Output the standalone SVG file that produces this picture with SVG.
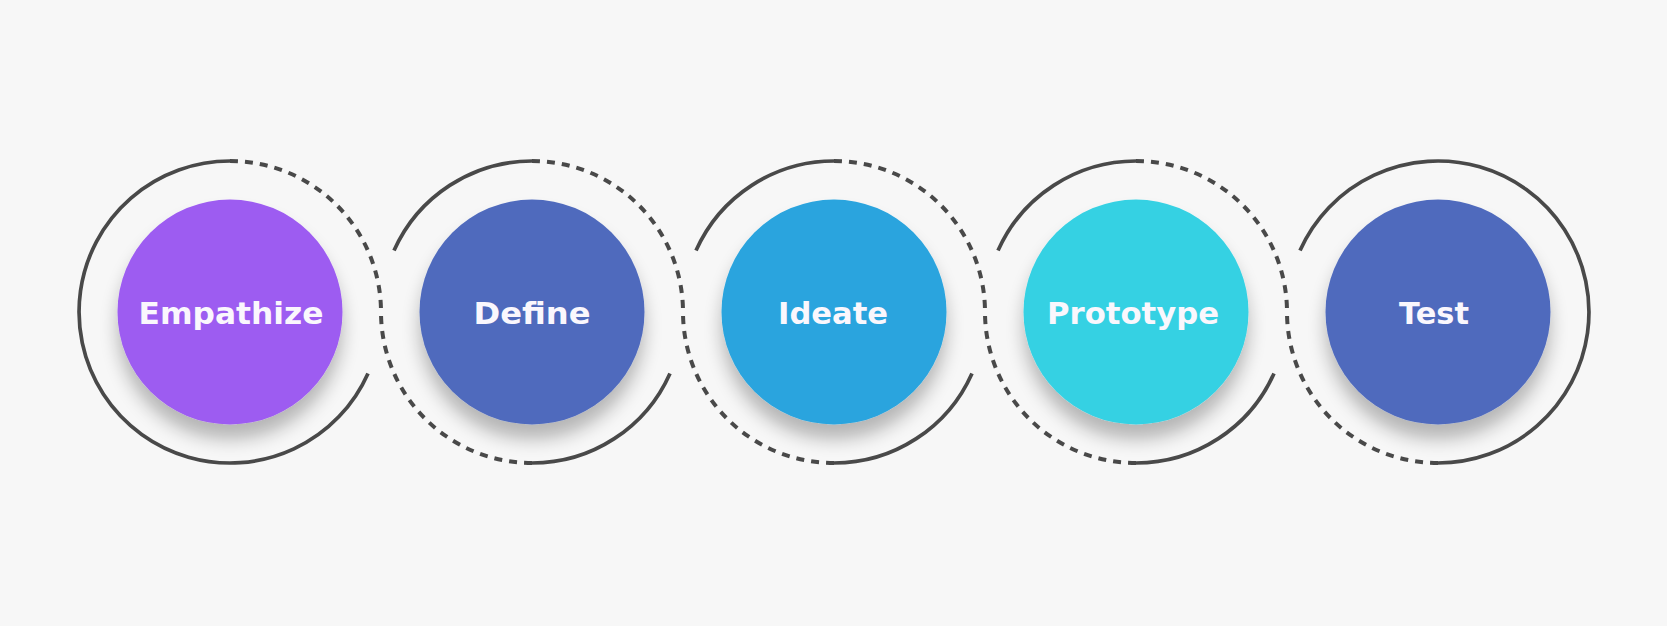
<svg xmlns="http://www.w3.org/2000/svg" width="1667" height="626" viewBox="0 0 1667 626">
  <defs>
    <filter id="shadow" x="-30%" y="-30%" width="160%" height="170%">
      <feGaussianBlur in="SourceAlpha" stdDeviation="9"/>
      <feOffset dx="0" dy="15" result="b"/>
      <feComponentTransfer><feFuncA type="linear" slope="0.27"/></feComponentTransfer>
      <feMerge><feMergeNode/><feMergeNode in="SourceGraphic"/></feMerge>
    </filter>
    <style>
      .solid { fill: none; stroke: #494949; stroke-width: 3.7; }
      .dash { fill: none; stroke: #494949; stroke-width: 4; stroke-dasharray: 8 7; }
      .disc { filter: url(#shadow); }
      .label { font-family: "DejaVu Sans", "Liberation Sans", sans-serif; font-weight: 700; font-size: 31px; fill: #faf7fd; text-anchor: middle; }
    </style>
  </defs>
  <rect width="1667" height="626" fill="#f7f7f7"/>

  <g id="connectors">
    <!-- ring 1 -->
    <path class="solid" d="M368,373.4 A151,151 0 1 1 230,161"/>
    <path class="dash" d="M230,161 A151,151 0 0 1 381,312"/>
    <!-- ring 2 -->
    <path class="solid" d="M394,250.6 A151,151 0 0 1 532,161"/>
    <path class="dash" d="M532,161 A151,151 0 0 1 683,312"/>
    <path class="solid" d="M670,373.4 A151,151 0 0 1 532,463"/>
    <path class="dash" d="M532,463 A151,151 0 0 1 381,312"/>
    <!-- ring 3 -->
    <path class="solid" d="M696,250.6 A151,151 0 0 1 834,161"/>
    <path class="dash" d="M834,161 A151,151 0 0 1 985,312"/>
    <path class="solid" d="M972,373.4 A151,151 0 0 1 834,463"/>
    <path class="dash" d="M834,463 A151,151 0 0 1 683,312"/>
    <!-- ring 4 -->
    <path class="solid" d="M998,250.6 A151,151 0 0 1 1136,161"/>
    <path class="dash" d="M1136,161 A151,151 0 0 1 1287,312"/>
    <path class="solid" d="M1274,373.4 A151,151 0 0 1 1136,463"/>
    <path class="dash" d="M1136,463 A151,151 0 0 1 985,312"/>
    <!-- ring 5 -->
    <path class="solid" d="M1300,250.6 A151,151 0 1 1 1438,463"/>
    <path class="dash" d="M1438,463 A151,151 0 0 1 1287,312"/>
  </g>

  <g id="empathize">
    <circle class="disc" cx="230" cy="312" r="112.5" fill="#9d5cf1"/>
    <text class="label" x="231" y="324" textLength="185" lengthAdjust="spacingAndGlyphs">Empathize</text>
  </g>
  <g id="define">
    <circle class="disc" cx="532" cy="312" r="112.5" fill="#506bbd"/>
    <text class="label" x="532" y="324" textLength="117" lengthAdjust="spacingAndGlyphs">Define</text>
  </g>
  <g id="ideate">
    <circle class="disc" cx="834" cy="312" r="112.5" fill="#29a4de"/>
    <text class="label" x="833" y="324" textLength="110" lengthAdjust="spacingAndGlyphs">Ideate</text>
  </g>
  <g id="prototype">
    <circle class="disc" cx="1136" cy="312" r="112.5" fill="#36d1e3"/>
    <text class="label" x="1133" y="324" textLength="172" lengthAdjust="spacingAndGlyphs">Prototype</text>
  </g>
  <g id="test">
    <circle class="disc" cx="1438" cy="312" r="112.5" fill="#506bbd"/>
    <text class="label" x="1434" y="324" textLength="70" lengthAdjust="spacingAndGlyphs">Test</text>
  </g>
</svg>
